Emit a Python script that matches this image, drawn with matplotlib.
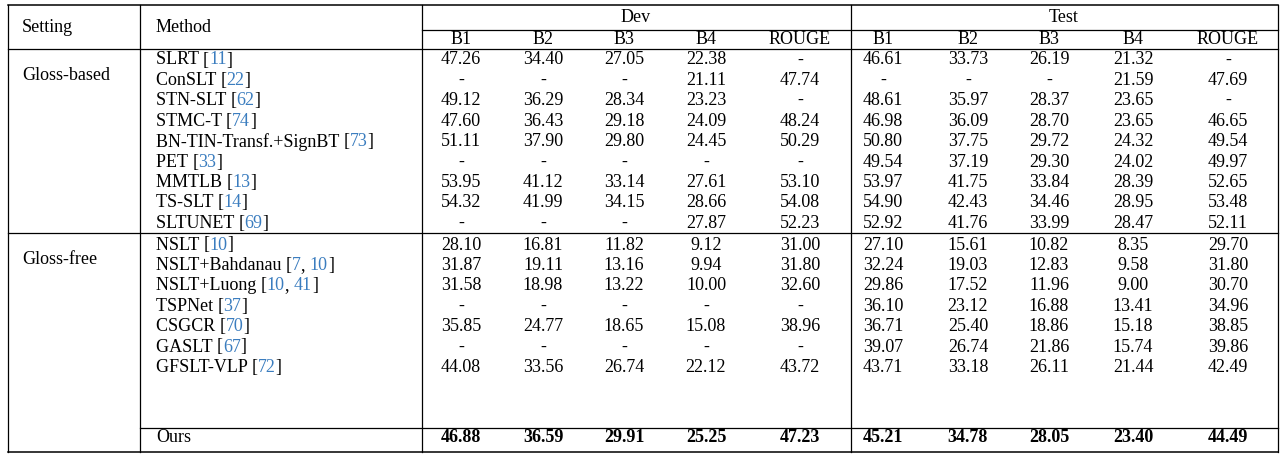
import matplotlib
matplotlib.use("Agg")
import matplotlib.pyplot as plt

settings = ["Gloss-based", "Gloss-free"]
methods = [("SLRT ", "11"), ("ConSLT ", "22"), ("STN-SLT ", "62"), ("STMC-T ", "74"),
           ("BN-TIN-Transf.+SignBT ", "73"), ("PET ", "33"), ("MMTLB ", "13"),
           ("TS-SLT ", "14"), ("SLTUNET ", "69"),
           ("NSLT ", "10"), ("NSLT+Bahdanau ", "7, 10"), ("NSLT+Luong ", "10, 41"),
           ("TSPNet ", "37"), ("CSGCR ", "70"), ("GASLT ", "67"), ("GFSLT-VLP ", "72"),
           ("Ours", None)]
dev = [
    ["47.26", "34.40", "27.05", "22.38", "-"],
    ["-", "-", "-", "21.11", "47.74"],
    ["49.12", "36.29", "28.34", "23.23", "-"],
    ["47.60", "36.43", "29.18", "24.09", "48.24"],
    ["51.11", "37.90", "29.80", "24.45", "50.29"],
    ["-", "-", "-", "-", "-"],
    ["53.95", "41.12", "33.14", "27.61", "53.10"],
    ["54.32", "41.99", "34.15", "28.66", "54.08"],
    ["-", "-", "-", "27.87", "52.23"],
    ["28.10", "16.81", "11.82", "9.12", "31.00"],
    ["31.87", "19.11", "13.16", "9.94", "31.80"],
    ["31.58", "18.98", "13.22", "10.00", "32.60"],
    ["-", "-", "-", "-", "-"],
    ["35.85", "24.77", "18.65", "15.08", "38.96"],
    ["-", "-", "-", "-", "-"],
    ["44.08", "33.56", "26.74", "22.12", "43.72"],
    ["46.88", "36.59", "29.91", "25.25", "47.23"],
]
test = [
    ["46.61", "33.73", "26.19", "21.32", "-"],
    ["-", "-", "-", "21.59", "47.69"],
    ["48.61", "35.97", "28.37", "23.65", "-"],
    ["46.98", "36.09", "28.70", "23.65", "46.65"],
    ["50.80", "37.75", "29.72", "24.32", "49.54"],
    ["49.54", "37.19", "29.30", "24.02", "49.97"],
    ["53.97", "41.75", "33.84", "28.39", "52.65"],
    ["54.90", "42.43", "34.46", "28.95", "53.48"],
    ["52.92", "41.76", "33.99", "28.47", "52.11"],
    ["27.10", "15.61", "10.82", "8.35", "29.70"],
    ["32.24", "19.03", "12.83", "9.58", "31.80"],
    ["29.86", "17.52", "11.96", "9.00", "30.70"],
    ["36.10", "23.12", "16.88", "13.41", "34.96"],
    ["36.71", "25.40", "18.86", "15.18", "38.85"],
    ["39.07", "26.74", "21.86", "15.74", "39.86"],
    ["43.71", "33.18", "26.11", "21.44", "42.49"],
    ["45.21", "34.78", "28.05", "23.40", "44.49"],
]
metrics = ["B1", "B2", "B3", "B4", "ROUGE"]

W, H = 1284, 455
fig = plt.figure(figsize=(W/100, H/100), dpi=100)
plt.rcParams['font.family'] = ['Liberation Serif', 'DejaVu Serif']
FS = 13
BLUE = "#3b7dbf"

def X(px): return px / W
def Y(py): return 1 - py / H
def hline(y, x0, x1, lw=0.9):
    fig.add_artist(plt.Line2D([X(x0), X(x1)], [Y(y), Y(y)], color="black", lw=lw))
def vline(x, y0, y1, lw=0.9):
    fig.add_artist(plt.Line2D([X(x), X(x)], [Y(y0), Y(y1)], color="black", lw=lw))
def txt(x, y, s, ha="center", **kw):
    return fig.text(X(x), Y(y), s, ha=ha, va="center", fontsize=FS, **kw)

L, R = 8, 1278
hline(5, L, R, 1.1)
hline(30, 422, R)
hline(49, L, R)
hline(233, L, R)
hline(428, 140, R)
hline(452, L, R, 1.1)
for x in [140, 422, 851]:
    vline(x, 5, 452)
vline(L, 5, 452); vline(R, 5, 452)

txt(22, 27, "Setting", ha="left")
txt(156, 27, "Method", ha="left")
txt(636, 17, "Dev")
txt(1064, 17, "Test")
dev_x = [461, 543, 624, 706, 800]
test_x = [883, 968, 1049, 1133, 1228]
for m, a, b in zip(metrics, dev_x, test_x):
    txt(a, 40, m); txt(b, 40, m)

txt(22, 75, settings[0], ha="left")
txt(22, 260, settings[1], ha="left")

fig.canvas.draw()
r = fig.canvas.get_renderer()
ys = [60 + 20.4 * i for i in range(9)] + [245 + 20.4 * i for i in range(7)] + [438]
for i, (name, cite) in enumerate(methods):
    y = ys[i]
    t = txt(156, y, name, ha="left")
    x = 156
    if cite:
        w = t.get_window_extent(r).width
        x += w
        parts = cite.split(", ")
        pieces = [("[", "black")]
        for k, p in enumerate(parts):
            if k: pieces.append((", ", "black"))
            pieces.append((p, BLUE))
        pieces.append(("]", "black"))
        for s, c in pieces:
            tt = txt(x, y, s, ha="left", color=c)
            x += tt.get_window_extent(r).width
    bold = cite is None
    for v, cx in zip(dev[i], dev_x):
        txt(cx, y, v, fontweight="bold" if bold else "normal")
    for v, cx in zip(test[i], test_x):
        txt(cx, y, v, fontweight="bold" if bold else "normal")

fig.savefig("out.png", dpi=100, facecolor="white")
